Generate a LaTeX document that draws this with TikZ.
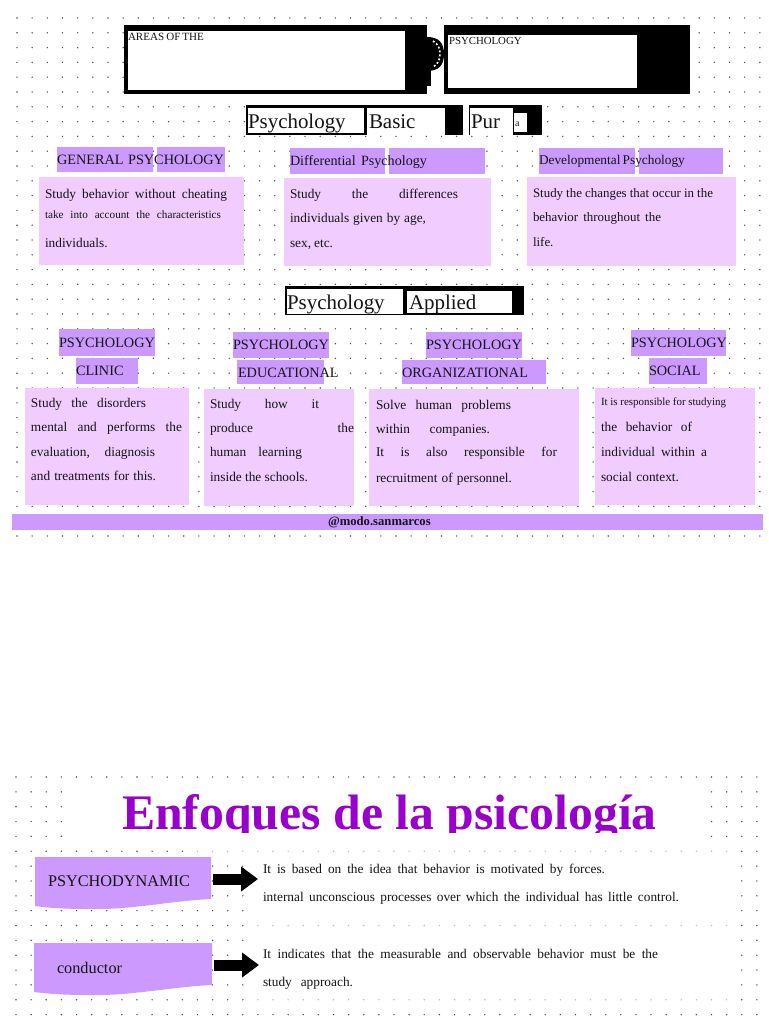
\documentclass[tikz,border=0pt]{standalone}
\usepackage{fontspec}
\setmainfont{Liberation Serif}
\usetikzlibrary{arrows.meta}
\definecolor{hdr}{HTML}{CC99FF}
\definecolor{bodybg}{HTML}{F0CCFF}
\definecolor{ttl}{HTML}{9900CC}
\definecolor{ink}{HTML}{141414}
\definecolor{dotc}{HTML}{555555}
\newdimen\pxu \pxu=0.75pt
% name, x, baseline, width, size(pt), text
\newcommand{\tl}[6]{\node[txt,font=\fontsize{#5}{#5}\selectfont] (#1) at (#2,#3) {\makebox[#4\pxu][s]{#6}};}
\newcommand{\bx}[5]{\fill[#1] (#2,#3) rectangle (#4,#5);}
\tikzset{txt/.style={anchor=base west,inner sep=0pt,outer sep=0pt,text=ink},
 blockarrow/.style={line width=8.25pt,draw=black,-{Triangle[length=12.75pt,width=18pt,fill=black]}}}
\begin{document}
\begin{tikzpicture}[x=0.75pt,y=-0.75pt]
\useasboundingbox (0,0) rectangle (768,1024);
\fill[white] (0,0) rectangle (768,1024);
% dot grids
\foreach \i in {0,...,49}{
 \foreach \j in {0,...,35}{\fill[dotc] ({17+15.16*\i},{18+14.8*\j}) circle (0.8);}
 \foreach \j in {0,...,16}{\fill[dotc] ({16+15.12*\i},{777+14.85*\j}) circle (0.8);}
}
% masks of the lower panel
\bx{white}{66}{785}{705}{846}
\bx{white}{246}{858}{735}{921}
\bx{white}{246}{932}{735}{995}
\bx{white,opacity=.6}{190}{846}{735}{856}
\bx{white,opacity=.6}{246}{921}{735}{932}
\bx{white,opacity=.6}{246}{995}{735}{1008}
% top bars
\bx{white}{427}{25}{444}{94}
\bx{black}{124}{25}{427}{94}
\bx{white}{128}{31}{405}{90}
\bx{black}{444}{25}{690}{94}
\bx{white}{448}{35}{637}{88}
\fill[black] (427,37) .. controls (438,37) and (444,42) .. (444,54) .. controls (444,66) and (438,71) .. (427,71) -- cycle;
\draw[white,line width=1.2pt,dash pattern=on 1.4pt off 1.6pt] (433,41) .. controls (438,44) and (440,48) .. (440,54) .. controls (440,60) and (438,64) .. (433,67);
\bx{black}{427}{71}{431}{86}
\tl{areas}{128}{41}{76}{8.3}{AREAS OF THE}
\tl{psyt}{449}{45}{73}{8.1}{PSYCHOLOGY}
% Basic / Pure
\bx{black}{246}{105}{463}{135}
\bx{white}{248}{108}{364}{133}
\bx{white}{367}{108}{445}{135}
\bx{black}{469}{105}{542}{135}
\bx{white}{470}{108}{513}{135}
\bx{white}{514}{113}{527}{132}
\tl{pb}{248}{128.5}{97}{15.7}{Psychology}
\tl{ba}{369}{128.5}{47}{15.7}{Basic}
\tl{pu}{471}{128.5}{31}{15.7}{Pur}
\tl{pa}{515}{126}{6}{7.5}{a}
% headers row 1
\bx{hdr}{57}{147}{153}{172}
\bx{hdr}{157}{147}{225}{172}
\bx{hdr}{290}{148}{385}{174}
\bx{hdr}{389}{148}{485}{174}
\bx{hdr}{539}{148}{635}{174}
\bx{hdr}{639}{148}{723}{174}
\bx{bodybg}{39}{177}{244}{265}
\bx{bodybg}{284}{178}{491}{266}
\bx{bodybg}{527}{177}{736}{266}
\tl{h1}{57}{164}{167}{10.7}{GENERAL PSYCHOLOGY}
\tl{h2}{290}{165}{137}{10.6}{Differential Psychology}
\tl{h3}{539}{164}{145}{10}{Developmental Psychology}
\tl{a1}{45}{198}{182}{10}{Study behavior without cheating}
\tl{a2}{45}{218}{176}{8.4}{take into account the characteristics}
\tl{a3}{45}{247}{63}{10}{individuals.}
\tl{b1}{290}{198}{168}{10}{Study the differences}
\tl{b2}{290}{222}{136}{10}{individuals given by age,}
\tl{b3}{290}{247}{43}{10}{sex, etc.}
\tl{c1}{533}{197}{180}{9.7}{Study the changes that occur in the}
\tl{c2}{533}{221}{128}{9.7}{behavior throughout the}
\tl{c3}{533}{246}{20}{9.7}{life.}
% Applied
\bx{black}{285}{286}{524}{315}
\bx{white}{287}{289}{403}{314}
\bx{white}{407}{291}{512}{313}
\tl{pap}{287}{309}{97}{15.7}{Psychology}
\tl{ap}{409}{309}{65}{15.7}{Applied}
% headers row 2
\bx{hdr}{59}{329}{155}{356}
\bx{hdr}{76}{358}{138}{384}
\bx{hdr}{233}{332}{329}{358}
\bx{hdr}{237}{360}{324}{384}
\bx{hdr}{426}{332}{522}{358}
\bx{hdr}{402}{360}{546}{384}
\bx{hdr}{631}{330}{726}{356}
\bx{hdr}{649}{358}{707}{384}
\bx{bodybg}{25}{388}{189}{505}
\bx{bodybg}{204}{389}{354}{506}
\bx{bodybg}{369}{389}{579}{506}
\bx{bodybg}{595}{388}{755}{505}
\tl{d0}{59}{347}{97}{10.7}{PSYCHOLOGY}
\tl{d00}{76}{375}{48}{10.7}{CLINIC}
\tl{e0}{233}{349}{96}{10.7}{PSYCHOLOGY}
\tl{e00}{238}{377}{101}{10.7}{EDUCATIONAL}
\tl{f0}{426}{349}{96}{10.7}{PSYCHOLOGY}
\tl{f00}{402}{377}{127}{10.7}{ORGANIZATIONAL}
\tl{g0}{631}{347}{96}{10.7}{PSYCHOLOGY}
\tl{g00}{649}{375}{51}{10.7}{SOCIAL}
\tl{d1}{31}{407}{115}{10}{Study the disorders}
\tl{d2}{31}{431}{151}{10}{mental and performs the}
\tl{d3}{31}{456}{124}{10}{evaluation, diagnosis}
\tl{d4}{31}{480}{125}{10}{and treatments for this.}
\tl{e1}{210}{408}{109}{10}{Study how it}
\tl{e2}{210}{432}{144}{10}{produce the}
\tl{e3}{210}{456}{92}{10}{human learning}
\tl{e4}{210}{481}{98}{10}{inside the schools.}
\tl{f1}{376}{409}{135}{10}{Solve human problems}
\tl{f2}{376}{433}{114}{10}{within companies.}
\tl{f3}{376}{456}{181}{10}{It is also responsible for}
\tl{f4}{376}{482}{136}{10}{recruitment of personnel.}
\tl{g1}{601}{405}{125}{8.2}{It is responsible for studying}
\tl{g2}{601}{431}{91}{10}{the behavior of}
\tl{g3}{601}{456}{106}{10}{individual within a}
\tl{g4}{601}{481}{78}{10}{social context.}
% footer
\bx{hdr}{12}{514}{763}{530}
\tl{foot}{328}{525}{103}{9.5}{\bfseries @modo.sanmarcos}
% lower panel
\node[txt,text=ttl,font=\fontsize{37.3}{37.3}\selectfont\bfseries] (title) at (122,829) {Enfoques de la psicología};
\bx{white}{100}{833}{700}{846}
\fill[hdr] (35,857) -- (211,857) -- (211,899) .. controls (170,901) and (130,910) .. (90,909) .. controls (65,909) and (50,908) .. (35,906) -- cycle;
\fill[hdr] (34,943) -- (212,943) -- (212,985) .. controls (170,987) and (130,996) .. (90,995) .. controls (65,995) and (50,994) .. (34,992) -- cycle;
\tl{pd}{48}{886}{142}{12.2}{PSYCHODYNAMIC}
\tl{cd}{57}{973}{65}{12.2}{conductor}
\coordinate (a1s) at (213,879);
\coordinate (a1e) at (258,879);
\coordinate (a2s) at (214,965);
\coordinate (a2e) at (259,965);
\draw[blockarrow] (a1s) -- (a1e);
\draw[blockarrow] (a2s) -- (a2e);
\tl{r1}{263}{873}{342}{10}{It is based on the idea that behavior is motivated by forces.}
\tl{r2}{263}{901}{416}{10}{internal unconscious processes over which the individual has little control.}
\tl{r3}{263}{958}{395}{10}{It indicates that the measurable and observable behavior must be the}
\tl{r4}{263}{986}{90}{10}{study approach.}
\end{tikzpicture}
\end{document}
